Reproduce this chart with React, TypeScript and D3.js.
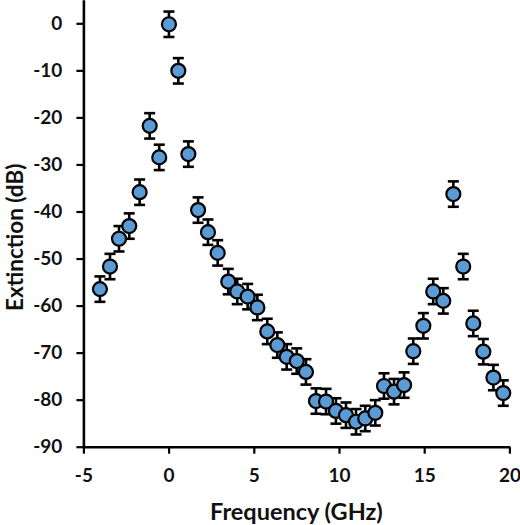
import React, { useEffect, useRef } from 'react';
import * as d3 from 'd3';

const frequencies = [
  -4.03, -3.44, -2.91, -2.31, -1.7, -1.11, -0.55, 0.02, 0.57, 1.16, 1.73, 2.31,
  2.88, 3.5, 4.03, 4.64, 5.21, 5.79, 6.38, 6.93, 7.52, 8.06, 8.65, 9.24, 9.82,
  10.41, 11.0, 11.54, 12.13, 12.64, 13.23, 13.82, 14.36, 14.95, 15.53, 16.12,
  16.71, 17.29, 17.88, 18.47, 19.06, 19.64,
];
const extinction = [
  -56.5, -51.7, -45.8, -43.1, -35.9, -21.8, -28.5, -0.2, -10.1, -27.8, -39.7,
  -44.4, -48.8, -54.9, -57.0, -58.1, -60.4, -65.5, -68.4, -70.9, -71.8, -74.1,
  -80.3, -80.4, -82.4, -83.3, -84.7, -84.0, -82.8, -77.1, -78.3, -76.9, -69.7,
  -64.3, -57.0, -59.0, -36.3, -51.7, -63.8, -69.8, -75.3, -78.6,
];
const errorDb = 2.7;

const xMajorTicks = [-5, 0, 5, 10, 15, 20];
const yMajorTicks = [0, -10, -20, -30, -40, -50, -60, -70, -80, -90];

const App: React.FC = () => {
  const chartRef = useRef<SVGSVGElement>(null);

  useEffect(() => {
    if (!chartRef.current) return;
    const svg = d3.select(chartRef.current);
    svg.selectAll('*').remove();

    const font = 'Lato, "Open Sans", sans-serif';
    const x = d3.scaleLinear().domain([-5, 20]).range([83.4, 509.4]);
    const y = d3.scaleLinear().domain([-90, 5]).range([446.7, -0.2]);

    const data = frequencies.map((f, i) => ({ f, v: extinction[i] }));
    const label = (d: d3.NumberValue) => String(d);

    // minor ticks
    const xMinor = d3.range(-5, 20.01, 1);
    const yMinor = d3.range(-90, 5, 2);

    const xAxis = svg.append('g').attr('transform', `translate(0,${y(-90)})`);
    xAxis.call(
      d3.axisBottom(x).tickValues(xMinor).tickSize(5).tickSizeOuter(0).tickFormat(() => '')
    );
    xAxis.call(
      d3.axisBottom(x).tickValues(xMajorTicks).tickSize(7).tickSizeOuter(0).tickPadding(15)
        .tickFormat(label)
    );
    xAxis.selectAll('path').attr('stroke', '#000').attr('stroke-width', 2.6);
    xAxis.selectAll('line').attr('stroke', '#000').attr('stroke-width', 2.2);
    xAxis.selectAll('text')
      .style('font-family', font)
      .style('font-size', '19px')
      .style('font-weight', 'bold')
      .attr('fill', '#111');

    const yAxis = svg.append('g').attr('transform', `translate(${x(-5)},0)`);
    yAxis.call(
      d3.axisLeft(y).tickValues(yMinor).tickSize(5).tickSizeOuter(0).tickFormat(() => '')
    );
    yAxis.call(
      d3.axisLeft(y).tickValues(yMajorTicks).tickSize(7).tickSizeOuter(0).tickPadding(14)
        .tickFormat(label)
    );
    yAxis.selectAll('path').attr('stroke', '#000').attr('stroke-width', 2.6);
    yAxis.selectAll('line').attr('stroke', '#000').attr('stroke-width', 2.2);
    yAxis.selectAll('text')
      .style('font-family', font)
      .style('font-size', '19px')
      .style('font-weight', 'bold')
      .attr('fill', '#111');

    // error bars
    const bars = svg.append('g').attr('stroke', '#000').attr('stroke-width', 2.6);
    bars.selectAll('.err')
      .data(data)
      .enter()
      .append('line')
      .attr('x1', d => x(d.f))
      .attr('x2', d => x(d.f))
      .attr('y1', d => y(d.v + errorDb))
      .attr('y2', d => y(d.v - errorDb));
    bars.selectAll('.cap-top')
      .data(data)
      .enter()
      .append('line')
      .attr('x1', d => x(d.f) - 5.5)
      .attr('x2', d => x(d.f) + 5.5)
      .attr('y1', d => y(d.v + errorDb))
      .attr('y2', d => y(d.v + errorDb));
    bars.selectAll('.cap-bottom')
      .data(data)
      .enter()
      .append('line')
      .attr('x1', d => x(d.f) - 5.5)
      .attr('x2', d => x(d.f) + 5.5)
      .attr('y1', d => y(d.v - errorDb))
      .attr('y2', d => y(d.v - errorDb));

    // markers
    svg.append('g')
      .selectAll('circle')
      .data(data)
      .enter()
      .append('circle')
      .attr('cx', d => x(d.f))
      .attr('cy', d => y(d.v))
      .attr('r', 7)
      .attr('fill', '#5b9bd5')
      .attr('stroke', '#000')
      .attr('stroke-width', 2.2);

    // axis titles
    svg.append('text')
      .attr('x', (x(-5) + x(20)) / 2)
      .attr('y', 520)
      .attr('text-anchor', 'middle')
      .style('font-family', font)
      .style('font-size', '23.5px')
      .style('font-weight', 'bold')
      .attr('fill', '#111')
      .text('Frequency (GHz)');

    svg.append('text')
      .attr('transform', `translate(23,${(y(-90) + y(5)) / 2 + 14}) rotate(-90)`)
      .attr('text-anchor', 'middle')
      .style('font-family', font)
      .style('font-size', '22.5px')
      .style('font-weight', 'bold')
      .attr('fill', '#111')
      .text('Extinction (dB)');
  }, []);

  return (
    <svg
      ref={chartRef}
      width={520}
      height={525}
      style={{ position: 'absolute', left: 0, top: 0, background: '#fff' }}
    />
  );
};

export default App;
